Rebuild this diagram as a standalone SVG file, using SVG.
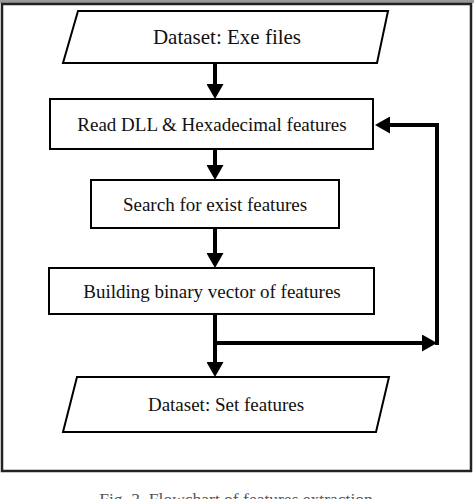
<svg xmlns="http://www.w3.org/2000/svg" width="474" height="499" viewBox="0 0 474 499">
  <style>
    .box { fill: #fff; stroke: #000; stroke-width: 2; }
    .lbl { font-family: "Liberation Serif", "Times New Roman", serif; font-size: 19px; fill: #111; text-anchor: middle; }
    .big { font-size: 21px; }
    .conn { fill: none; stroke: #000; stroke-width: 4; }
    .cap { font-family: "Liberation Serif", "Times New Roman", serif; font-size: 17.5px; fill: #555; text-anchor: middle; }
  </style>
  <defs>
    <marker id="ah" markerUnits="userSpaceOnUse" markerWidth="15" markerHeight="17" viewBox="0 -8.5 15 17" refX="5" refY="0" orient="auto">
      <path d="M0,-8.5 L15,0 L0,8.5 z" fill="#000"/>
    </marker>
  </defs>
  <rect x="0" y="0" width="474" height="499" fill="#fff"/>
  <rect x="0" y="0" width="474" height="3" fill="#9a9a9a"/>
  <rect x="2" y="4" width="469" height="467" fill="none" stroke="#222" stroke-width="2.5"/>

  <g id="connectors">
    <path class="conn" d="M215,63 V89" marker-end="url(#ah)"/>
    <path class="conn" d="M215,149 V170" marker-end="url(#ah)"/>
    <path class="conn" d="M215,228 V258" marker-end="url(#ah)"/>
    <path class="conn" d="M215,314 V367" marker-end="url(#ah)"/>
    <path class="conn" d="M215,343 H427" marker-end="url(#ah)"/>
    <path class="conn" d="M437,345 V125 H385" marker-end="url(#ah)"/>
  </g>

  <g id="n1">
    <polygon class="box" points="78,11 388,11 377,63 63,63"/>
    <text class="lbl big" x="227" y="44">Dataset: Exe files</text>
  </g>
  <g id="n2">
    <rect class="box" x="50" y="99" width="323" height="50"/>
    <text class="lbl" x="212" y="131">Read DLL &amp; Hexadecimal features</text>
  </g>
  <g id="n3">
    <rect class="box" x="91" y="180" width="248" height="48"/>
    <text class="lbl" x="215" y="211">Search for exist features</text>
  </g>
  <g id="n4">
    <rect class="box" x="49" y="268" width="325" height="46"/>
    <text class="lbl" x="212" y="298">Building binary vector of features</text>
  </g>
  <g id="n5">
    <polygon class="box" points="77,377 389,377 376,432 63,432"/>
    <text class="lbl" x="226" y="411">Dataset: Set features</text>
  </g>

  <text class="cap" x="236" y="505">Fig. 3.  Flowchart of features extraction</text>
</svg>
